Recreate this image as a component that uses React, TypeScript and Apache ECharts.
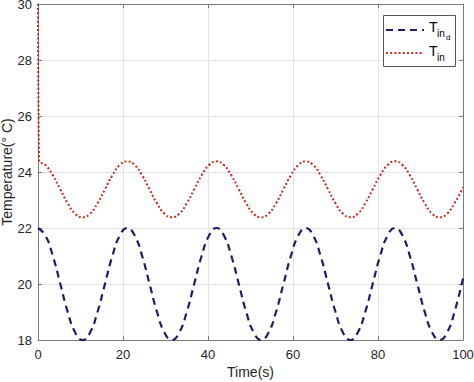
import { useEffect, useRef } from "react";
import * as echarts from "echarts";

const xTicks = [0, 20, 40, 60, 80, 100];
const yTicks = [18, 20, 22, 24, 26, 28, 30];

const tindTime = [
  0, 1.75, 3.5, 5.25, 7, 8.75, 10.5, 12.25, 14, 15.75, 17.5, 19.25,
  21, 22.75, 24.5, 26.25, 28, 29.75, 31.5, 33.25, 35, 36.75, 38.5, 40.25,
  42, 43.75, 45.5, 47.25, 49, 50.75, 52.5, 54.25, 56, 57.75, 59.5, 61.25,
  63, 64.75, 66.5, 68.25, 70, 71.75, 73.5, 75.25, 77, 78.75, 80.5, 82.25,
  84, 85.75, 87.5, 89.25, 91, 92.75, 94.5, 96.25, 98, 100,
];
const tindValues = [
  22, 21.73, 21, 20, 19, 18.27, 18, 18.27, 19, 20, 21, 21.73,
  22, 21.73, 21, 20, 19, 18.27, 18, 18.27, 19, 20, 21, 21.73,
  22, 21.73, 21, 20, 19, 18.27, 18, 18.27, 19, 20, 21, 21.73,
  22, 21.73, 21, 20, 19, 18.27, 18, 18.27, 19, 20, 21, 21.73,
  22, 21.73, 21, 20, 19, 18.27, 18, 18.27, 19, 20.2,
];

const tinTime = [
  0, 0.25, 1.75, 3.5, 5.25, 7, 8.75, 10.5, 12.25, 14, 15.75, 17.5, 19.25,
  21, 22.75, 24.5, 26.25, 28, 29.75, 31.5, 33.25, 35, 36.75, 38.5, 40.25,
  42, 43.75, 45.5, 47.25, 49, 50.75, 52.5, 54.25, 56, 57.75, 59.5, 61.25,
  63, 64.75, 66.5, 68.25, 70, 71.75, 73.5, 75.25, 77, 78.75, 80.5, 82.25,
  84, 85.75, 87.5, 89.25, 91, 92.75, 94.5, 96.25, 98, 100,
];
const tinValues = [
  30, 24.42, 24.25, 23.88, 23.38, 22.88, 22.51, 22.38, 22.51, 22.88, 23.38, 23.88, 24.25,
  24.38, 24.25, 23.88, 23.38, 22.88, 22.51, 22.38, 22.51, 22.88, 23.38, 23.88, 24.25,
  24.38, 24.25, 23.88, 23.38, 22.88, 22.51, 22.38, 22.51, 22.88, 23.38, 23.88, 24.25,
  24.38, 24.25, 23.88, 23.38, 22.88, 22.51, 22.38, 22.51, 22.88, 23.38, 23.88, 24.25,
  24.38, 24.25, 23.88, 23.38, 22.88, 22.51, 22.38, 22.51, 22.88, 23.45,
];

const NAVY = "#1c1c6c";
const RED = "#cc2b1d";
const AXIS = "#7a7a7a";
const FONT = "Liberation Sans, Arial, sans-serif";

export default function App() {
  const ref = useRef<HTMLDivElement>(null);
  useEffect(() => {
    if (!ref.current) return;
    const chart = echarts.init(ref.current, undefined, { renderer: "svg" });
    const axisCommon = {
      type: "value" as const,
      axisLine: { show: true, onZero: false, lineStyle: { color: AXIS, width: 1 } },
      axisTick: { show: true, inside: true, length: 4, lineStyle: { color: AXIS } },
    };
    chart.setOption({
      animation: false,
      backgroundColor: "#ffffff",
      grid: { left: 38, right: 11, top: 4, bottom: 42, containLabel: false, outerBoundsMode: "none" },
      xAxis: [
        {
          ...axisCommon,
          min: xTicks[0],
          max: xTicks[xTicks.length - 1],
          interval: 20,
          position: "bottom",
          name: "Time(s)",
          nameLocation: "middle",
          nameGap: 25,
          nameMoveOverlap: false,
          nameTextStyle: { fontFamily: FONT, fontSize: 14, color: "#262626" },
          axisLabel: { fontFamily: FONT, fontSize: 13, color: "#262626", margin: 8 },
          splitLine: { show: true, lineStyle: { color: "#e3e3e3", width: 1 } },
        },
        {
          ...axisCommon,
          min: xTicks[0],
          max: xTicks[xTicks.length - 1],
          interval: 20,
          position: "top",
          axisLabel: { show: false },
          splitLine: { show: false },
        },
      ],
      yAxis: [
        {
          ...axisCommon,
          min: yTicks[0],
          max: yTicks[yTicks.length - 1],
          interval: 2,
          position: "left",
          name: "Temperature(° C)",
          nameLocation: "middle",
          nameGap: 24,
          nameMoveOverlap: false,
          nameTextStyle: { fontFamily: FONT, fontSize: 14, color: "#262626" },
          axisLabel: { fontFamily: FONT, fontSize: 13, color: "#262626", margin: 6 },
          splitLine: { show: true, lineStyle: { color: "#e3e3e3", width: 1 } },
        },
        {
          ...axisCommon,
          min: yTicks[0],
          max: yTicks[yTicks.length - 1],
          interval: 2,
          position: "right",
          axisLabel: { show: false },
          splitLine: { show: false },
        },
      ],
      series: [
        {
          name: "T_ind",
          type: "line",
          data: tindTime.map((t, i) => [t, tindValues[i]]),
          showSymbol: false,
          smooth: 0.5,
          lineStyle: { color: NAVY, width: 2.2, type: [7, 5] },
          z: 3,
        },
        {
          name: "T_in",
          type: "line",
          data: tinTime.map((t, i) => [t, tinValues[i]]),
          showSymbol: false,
          smooth: 0.5,
          lineStyle: { color: RED, width: 2, type: [2, 2.2] },
          z: 4,
        },
      ],
      graphic: [
        {
          type: "rect",
          shape: { x: 383.5, y: 15.5, width: 72, height: 51 },
          style: { fill: "#ffffff", stroke: "#555555", lineWidth: 1 },
          z: 100,
        },
        {
          type: "line",
          shape: { x1: 386, y1: 30, x2: 424, y2: 30 },
          style: { stroke: NAVY, lineWidth: 2.2, lineDash: [7, 5] },
          z: 101,
        },
        {
          type: "line",
          shape: { x1: 386, y1: 53, x2: 424, y2: 53 },
          style: { stroke: RED, lineWidth: 2, lineDash: [2, 2.2] },
          z: 101,
        },
        { type: "text", x: 429, y: 27, z: 101, style: { text: "T", fontFamily: FONT, fontSize: 14, fill: "#000", verticalAlign: "middle" } },
        { type: "text", x: 437, y: 33, z: 101, style: { text: "in", fontFamily: FONT, fontSize: 10, fill: "#000", verticalAlign: "middle" } },
        { type: "text", x: 446, y: 37, z: 101, style: { text: "d", fontFamily: FONT, fontSize: 8, fill: "#000", verticalAlign: "middle" } },
        { type: "text", x: 429, y: 51, z: 101, style: { text: "T", fontFamily: FONT, fontSize: 14, fill: "#000", verticalAlign: "middle" } },
        { type: "text", x: 437, y: 57, z: 101, style: { text: "in", fontFamily: FONT, fontSize: 10, fill: "#000", verticalAlign: "middle" } },
      ],
    });
    return () => chart.dispose();
  }, []);
  return (
    <div
      ref={ref}
      style={{ position: "absolute", left: 0, top: 0, width: 474, height: 382, background: "#fff" }}
    />
  );
}
